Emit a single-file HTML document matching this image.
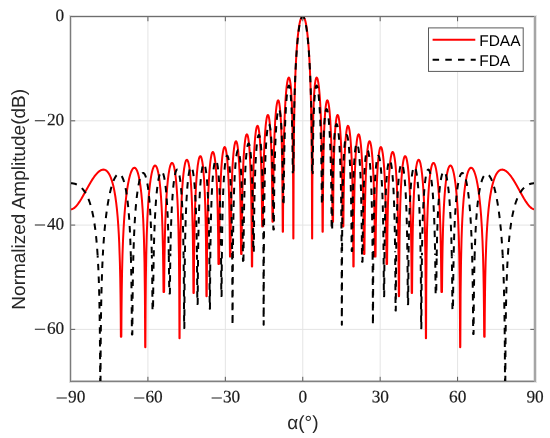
<!DOCTYPE html>
<html><head><meta charset="utf-8"><style>
html,body{margin:0;padding:0;background:#fff;}
body{width:550px;height:438px;overflow:hidden;}
svg{display:block;text-rendering:geometricPrecision;}
.tk{font-family:"Liberation Serif","DejaVu Serif",serif;font-size:17.5px;fill:#1a1a1a;}
.dg{font-size:18px;stroke:#1a1a1a;stroke-width:0.2px;}
.lb{font-family:"Liberation Sans","DejaVu Sans",sans-serif;font-size:19px;fill:#262626;}
.lg{font-family:"Liberation Sans","DejaVu Sans",sans-serif;font-size:15.5px;fill:#000;}
</style></head><body>
<svg width="550" height="438" viewBox="0 0 550 438">
<rect width="550" height="438" fill="#fff"/>
<defs><clipPath id="ax"><rect x="70.5" y="16.55" width="464.50" height="364.95"/></clipPath></defs>
<g stroke="#e4e4e4" stroke-width="1" fill="none"><line x1="147.92" y1="16.55" x2="147.92" y2="381.5"/><line x1="225.33" y1="16.55" x2="225.33" y2="381.5"/><line x1="302.75" y1="16.55" x2="302.75" y2="381.5"/><line x1="380.17" y1="16.55" x2="380.17" y2="381.5"/><line x1="457.58" y1="16.55" x2="457.58" y2="381.5"/><line x1="70.5" y1="120.82" x2="535.0" y2="120.82"/><line x1="70.5" y1="225.09" x2="535.0" y2="225.09"/><line x1="70.5" y1="329.36" x2="535.0" y2="329.36"/></g>
<g shape-rendering="crispEdges">
<rect x="69" y="15" width="468" height="3" fill="#e4e4e4"/>
<rect x="69" y="380" width="468" height="3" fill="#e2e2e2"/>
<rect x="69" y="15" width="3" height="368" fill="#dedede"/>
<rect x="533" y="15" width="4" height="368" fill="#e6e6e6"/>
<rect x="70" y="380" width="466" height="1" fill="#c2c2c2"/>
</g>
<g clip-path="url(#ax)" fill="none" stroke-linejoin="round">
<path d="M70.50 209.41L71.38 209.33L72.25 209.09L73.13 208.69L74.01 208.14L74.94 207.40L75.87 206.51L76.85 205.41L77.83 204.17L79.58 201.65L81.54 198.46L83.51 195.03L89.08 184.95L90.83 181.95L92.43 179.38L94.24 176.73L95.89 174.58L97.49 172.81L99.04 171.41L99.92 170.78L100.80 170.27L101.62 169.91L102.45 169.69L103.27 169.60L104.05 169.65L104.82 169.84L105.54 170.16L106.27 170.61L106.99 171.22L107.66 171.94L108.33 172.81L109.00 173.84L109.62 174.96L110.81 177.59L112.05 181.15L113.23 185.52L114.32 190.56L115.30 196.24L116.18 202.52L116.95 209.34L117.67 217.22L118.29 225.63L118.81 234.35L119.22 243.00L119.89 262.48L120.25 278.31L120.51 294.58L120.72 313.96L120.87 336.80L121.29 336.80L121.34 335.70L121.49 312.77L121.75 289.70L122.06 271.91L122.47 255.57L122.99 241.00L123.61 228.10L124.33 216.66L125.16 206.52L126.24 196.25L126.86 191.49L127.48 187.34L128.15 183.45L128.82 180.09L129.54 177.00L130.32 174.24L131.09 172.00L131.87 170.25L132.64 168.96L133.05 168.47L133.47 168.10L133.88 167.87L134.29 167.77L134.70 167.80L135.07 167.94L135.48 168.23L135.84 168.61L136.56 169.71L137.13 170.92L137.65 172.31L138.16 173.99L138.68 176.00L139.61 180.58L140.48 186.27L141.26 192.75L141.98 200.48L142.60 208.95L143.17 218.93L143.58 228.22L143.94 238.54L144.51 262.51L144.92 295.45L145.18 346.27L145.23 347.22L145.39 347.22L145.59 307.85L145.85 278.88L146.21 255.87L146.73 235.51L147.40 218.21L147.81 210.26L148.28 202.86L148.79 196.05L149.36 189.83L149.98 184.23L150.60 179.60L151.12 176.37L151.68 173.39L152.25 170.94L152.87 168.82L153.44 167.36L154.06 166.25L154.37 165.89L154.68 165.66L154.99 165.55L155.30 165.56L155.61 165.71L155.92 165.98L156.48 166.84L157.05 168.16L157.62 170.01L158.14 172.18L158.65 174.87L159.17 178.17L159.63 181.74L160.35 188.70L161.03 197.20L161.59 206.65L162.06 216.73L162.52 230.27L162.94 247.62L163.25 267.55L163.50 292.03L164.07 292.03L164.12 291.16L164.48 257.29L164.95 233.94L165.26 223.25L165.67 212.20L166.08 203.49L166.60 194.81L167.17 187.23L167.84 180.17L168.56 174.31L169.34 169.61L169.75 167.66L170.16 166.07L170.57 164.81L170.99 163.88L171.40 163.25L171.86 162.92L172.28 162.96L172.69 163.30L173.10 163.97L173.52 164.97L173.93 166.33L174.29 167.83L175.06 172.16L175.74 177.35L176.35 183.69L176.92 191.24L177.44 200.16L177.85 209.36L178.47 229.18L178.93 254.41L179.24 286.37L179.45 338.36L179.61 338.36L179.81 291.06L180.12 256.30L180.59 229.68L180.90 218.04L181.26 207.57L181.72 197.16L182.24 188.23L182.81 180.58L183.43 174.10L184.15 168.40L184.87 164.32L185.23 162.80L185.64 161.46L186.06 160.52L186.47 159.97L186.83 159.80L187.19 159.93L187.55 160.36L187.92 161.10L188.28 162.16L188.64 163.56L189.31 167.18L189.93 171.86L190.50 177.58L191.01 184.32L191.48 192.10L191.84 199.72L192.20 209.34L192.77 231.62L193.13 256.11L193.44 293.07L193.80 293.07L193.85 290.81L194.01 267.31L194.21 247.78L194.47 231.38L194.78 217.40L195.09 206.88L195.45 197.26L195.86 188.58L196.38 180.09L197.00 172.32L197.72 165.67L198.50 160.74L198.91 158.89L199.32 157.54L199.73 156.65L200.15 156.23L200.35 156.18L200.56 156.26L200.97 156.75L201.39 157.71L201.75 158.97L202.16 160.92L202.52 163.10L202.93 166.22L203.35 170.12L204.07 179.29L204.69 190.59L205.20 204.07L205.67 222.16L205.98 240.84L206.24 266.49L206.39 294.50L206.44 296.19L206.70 296.19L206.96 259.51L207.22 236.42L207.58 216.43L208.10 198.09L208.77 182.48L209.54 170.43L210.00 165.15L210.47 160.96L210.99 157.37L211.55 154.54L211.86 153.45L212.17 152.67L212.48 152.18L212.69 152.01L212.84 151.97L213.15 152.11L213.46 152.55L213.77 153.29L214.08 154.35L214.65 157.18L215.22 161.33L215.73 166.48L216.20 172.55L216.61 179.46L217.02 188.34L217.64 207.87L218.11 233.17L218.42 263.91L218.99 263.91L219.24 237.79L219.50 220.01L219.81 205.24L220.22 191.21L220.74 178.67L221.36 167.91L222.03 159.62L222.39 156.22L222.80 153.09L223.42 149.70L223.73 148.54L224.04 147.72L224.35 147.22L224.56 147.07L224.71 147.05L225.02 147.25L225.33 147.78L225.64 148.66L225.95 149.89L226.52 153.16L227.09 157.96L227.60 163.97L228.07 171.16L228.48 179.52L228.84 189.07L229.15 199.81L229.62 224.37L229.93 255.30L229.98 256.62L230.49 256.62L230.86 223.84L231.22 203.12L231.78 182.92L232.15 173.94L232.51 166.78L232.97 159.49L233.44 153.82L233.95 149.00L234.52 145.17L235.09 142.69L235.35 141.97L235.66 141.43L235.97 141.24L236.27 141.40L236.58 141.92L236.84 142.64L237.26 144.34L237.67 146.79L238.03 149.63L238.39 153.21L239.01 161.53L239.58 172.56L240.09 187.32L240.51 205.39L240.77 222.69L241.07 254.02L241.54 254.02L241.85 221.60L242.16 201.25L242.67 180.19L243.29 164.19L243.71 156.54L244.12 150.48L244.58 145.13L245.10 140.64L245.62 137.45L245.87 136.29L246.18 135.25L246.44 134.68L246.75 134.34L247.01 134.34L247.27 134.60L247.53 135.13L247.78 135.93L248.25 138.12L248.71 141.37L249.13 145.29L249.54 150.40L249.90 156.11L250.52 169.75L251.04 187.60L251.40 207.69L251.65 231.66L251.86 266.51L252.17 266.51L252.38 231.31L252.58 210.74L252.89 191.03L253.25 175.60L253.77 160.41L254.39 147.93L254.75 142.48L255.16 137.47L255.58 133.52L255.99 130.47L256.51 127.80L256.76 126.89L257.02 126.26L257.33 125.87L257.59 125.84L257.85 126.09L258.11 126.62L258.62 128.56L259.14 131.82L259.60 136.07L260.02 141.14L260.43 147.78L260.79 155.34L261.10 163.65L261.41 174.52L261.82 196.24L262.13 225.89L262.18 226.42L262.75 226.42L263.06 197.38L263.47 173.75L264.04 154.05L264.40 145.24L264.76 138.22L265.23 131.11L265.69 125.63L266.21 121.08L266.78 117.63L267.04 116.55L267.34 115.65L267.65 115.14L267.91 115.04L268.07 115.11L268.22 115.28L268.48 115.81L268.79 116.85L269.05 118.07L269.41 120.37L269.72 122.96L270.29 129.48L270.80 138.05L271.22 147.59L271.63 161.04L271.99 178.74L272.20 193.88L272.45 221.74L272.92 221.74L273.23 189.85L273.54 168.88L273.95 150.80L274.47 135.54L275.14 122.05L275.55 115.98L275.96 111.15L276.43 106.94L276.89 103.85L277.36 101.76L277.62 101.02L277.87 100.55L278.13 100.38L278.39 100.50L278.65 100.91L278.91 101.64L279.37 103.78L279.83 107.13L280.25 111.32L280.66 116.96L281.02 123.44L281.33 130.57L281.80 145.51L282.16 163.61L282.47 190.14L282.72 231.63L282.98 231.63L283.19 191.71L283.50 162.58L283.96 138.08L284.58 118.19L285.00 108.84L285.46 100.60L285.98 93.47L286.54 87.49L287.16 82.76L287.78 79.62L288.09 78.59L288.40 77.92L288.71 77.61L288.87 77.59L289.02 77.67L289.28 78.01L289.54 78.62L290.05 80.78L290.52 83.95L290.98 88.60L291.34 93.56L291.71 100.15L292.27 115.77L292.69 135.21L292.94 155.89L293.15 186.38L293.31 238.40L293.41 238.40L293.61 173.63L293.92 136.73L294.18 118.78L294.54 101.07L294.96 86.27L295.47 72.27L296.09 59.44L296.81 47.99L297.64 38.06L298.52 30.20L298.98 26.94L299.45 24.23L299.96 21.78L300.48 19.88L301.00 18.46L301.56 17.39L302.13 16.77L302.44 16.61L302.75 16.55L303.06 16.61L303.37 16.77L303.94 17.39L304.50 18.46L305.02 19.88L305.54 21.78L306.05 24.23L306.52 26.94L306.98 30.20L307.86 38.06L308.69 47.99L309.41 59.44L310.03 72.27L310.54 86.27L310.96 101.07L311.32 118.78L311.58 136.73L311.89 173.63L312.09 238.40L312.19 238.40L312.35 186.38L312.56 155.89L312.81 135.21L313.23 115.77L313.79 100.15L314.16 93.56L314.52 88.60L314.98 83.95L315.45 80.78L315.96 78.62L316.22 78.01L316.48 77.67L316.63 77.59L316.79 77.61L317.10 77.92L317.41 78.59L317.72 79.62L318.34 82.76L318.96 87.49L319.52 93.47L320.04 100.60L320.50 108.84L320.92 118.19L321.54 138.08L322.00 162.58L322.31 191.71L322.52 231.63L322.78 231.63L323.03 190.14L323.34 163.61L323.70 145.51L324.17 130.57L324.48 123.44L324.84 116.96L325.25 111.32L325.67 107.13L326.13 103.78L326.59 101.64L326.85 100.91L327.11 100.50L327.37 100.38L327.63 100.55L327.88 101.02L328.14 101.76L328.61 103.85L329.07 106.94L329.54 111.15L329.95 115.98L330.36 122.05L331.03 135.54L331.55 150.80L331.96 168.88L332.27 189.85L332.58 221.74L333.05 221.74L333.30 193.88L333.51 178.74L333.87 161.04L334.28 147.59L334.70 138.05L335.21 129.48L335.78 122.96L336.09 120.37L336.45 118.07L336.71 116.85L337.02 115.81L337.28 115.28L337.43 115.11L337.59 115.04L337.85 115.14L338.16 115.65L338.46 116.55L338.72 117.63L339.29 121.08L339.81 125.63L340.27 131.11L340.74 138.22L341.10 145.24L341.46 154.05L342.03 173.75L342.44 197.38L342.75 226.42L343.32 226.42L343.37 225.89L343.68 196.24L344.09 174.52L344.40 163.65L344.71 155.34L345.07 147.78L345.48 141.14L345.90 136.07L346.36 131.82L346.88 128.56L347.39 126.62L347.65 126.09L347.91 125.84L348.17 125.87L348.48 126.26L348.74 126.89L348.99 127.80L349.51 130.47L349.92 133.52L350.34 137.47L350.75 142.48L351.11 147.93L351.73 160.41L352.25 175.60L352.61 191.03L352.92 210.74L353.12 231.31L353.33 266.51L353.64 266.51L353.84 231.66L354.10 207.69L354.46 187.60L354.98 169.75L355.60 156.11L355.96 150.40L356.37 145.29L356.79 141.37L357.25 138.12L357.72 135.93L357.97 135.13L358.23 134.60L358.49 134.34L358.75 134.34L359.06 134.68L359.32 135.25L359.63 136.29L359.88 137.45L360.40 140.64L360.92 145.13L361.38 150.48L361.79 156.54L362.21 164.19L362.83 180.19L363.34 201.25L363.65 221.60L363.96 254.02L364.43 254.02L364.73 222.69L364.99 205.39L365.41 187.32L365.92 172.56L366.49 161.53L367.11 153.21L367.47 149.63L367.83 146.79L368.24 144.34L368.66 142.64L368.92 141.92L369.23 141.40L369.53 141.24L369.84 141.43L370.15 141.97L370.41 142.69L370.98 145.17L371.55 149.00L372.06 153.82L372.53 159.49L372.99 166.78L373.35 173.94L373.72 182.92L374.28 203.12L374.64 223.84L375.01 256.62L375.52 256.62L375.57 255.30L375.88 224.37L376.35 199.81L376.66 189.07L377.02 179.52L377.43 171.16L377.90 163.97L378.41 157.96L378.98 153.16L379.55 149.89L379.86 148.66L380.17 147.78L380.48 147.25L380.79 147.05L380.94 147.07L381.15 147.22L381.46 147.72L381.77 148.54L382.08 149.70L382.70 153.09L383.11 156.22L383.47 159.62L384.14 167.91L384.76 178.67L385.28 191.21L385.69 205.24L386.00 220.01L386.26 237.79L386.51 263.91L387.08 263.91L387.39 233.17L387.86 207.87L388.48 188.34L388.89 179.46L389.30 172.55L389.77 166.48L390.28 161.33L390.85 157.18L391.42 154.35L391.73 153.29L392.04 152.55L392.35 152.11L392.66 151.97L392.81 152.01L393.02 152.18L393.33 152.67L393.64 153.45L393.95 154.54L394.51 157.37L395.03 160.96L395.50 165.15L395.96 170.43L396.73 182.48L397.40 198.09L397.92 216.43L398.28 236.42L398.54 259.51L398.80 296.19L399.06 296.19L399.11 294.50L399.26 266.49L399.52 240.84L399.83 222.16L400.29 204.07L400.81 190.59L401.43 179.29L402.15 170.12L402.57 166.22L402.98 163.10L403.34 160.92L403.75 158.97L404.11 157.71L404.53 156.75L404.94 156.26L405.15 156.18L405.35 156.23L405.77 156.65L406.18 157.54L406.59 158.89L407.00 160.74L407.78 165.67L408.50 172.32L409.12 180.09L409.64 188.58L410.05 197.26L410.41 206.88L410.72 217.40L411.03 231.38L411.29 247.78L411.49 267.31L411.65 290.81L411.70 293.07L412.06 293.07L412.37 256.11L412.73 231.62L413.30 209.34L413.66 199.72L414.02 192.10L414.49 184.32L415.00 177.58L415.57 171.86L416.19 167.18L416.86 163.56L417.22 162.16L417.58 161.10L417.95 160.36L418.31 159.93L418.67 159.80L419.03 159.97L419.44 160.52L419.86 161.46L420.27 162.80L420.63 164.32L421.35 168.40L422.07 174.10L422.69 180.58L423.26 188.23L423.78 197.16L424.24 207.57L424.60 218.04L424.91 229.68L425.38 256.30L425.69 291.06L425.89 338.36L426.05 338.36L426.26 286.37L426.57 254.41L427.03 229.18L427.65 209.36L428.06 200.16L428.58 191.24L429.15 183.69L429.76 177.35L430.44 172.16L431.21 167.83L431.57 166.33L431.98 164.97L432.40 163.97L432.81 163.30L433.22 162.96L433.64 162.92L434.10 163.25L434.51 163.88L434.93 164.81L435.34 166.07L435.75 167.66L436.16 169.61L436.94 174.31L437.66 180.17L438.33 187.23L438.90 194.81L439.42 203.49L439.83 212.20L440.24 223.25L440.55 233.94L441.02 257.29L441.38 291.16L441.43 292.03L442.00 292.03L442.25 267.55L442.56 247.62L442.98 230.27L443.44 216.73L443.91 206.65L444.47 197.20L445.15 188.70L445.87 181.74L446.33 178.17L446.85 174.87L447.36 172.18L447.88 170.01L448.45 168.16L449.02 166.84L449.58 165.98L449.89 165.71L450.20 165.56L450.51 165.55L450.82 165.66L451.13 165.89L451.44 166.25L452.06 167.36L452.63 168.82L453.25 170.94L453.82 173.39L454.38 176.37L454.90 179.60L455.52 184.23L456.14 189.83L456.71 196.05L457.22 202.86L457.69 210.26L458.10 218.21L458.77 235.51L459.29 255.87L459.65 278.88L459.91 307.85L460.11 347.22L460.27 347.22L460.32 346.27L460.58 295.45L460.99 262.51L461.56 238.54L461.92 228.22L462.33 218.93L462.90 208.95L463.52 200.48L464.24 192.75L465.02 186.27L465.89 180.58L466.82 176.00L467.34 173.99L467.85 172.31L468.37 170.92L468.94 169.71L469.66 168.61L470.02 168.23L470.43 167.94L470.80 167.80L471.21 167.77L471.62 167.87L472.03 168.10L472.45 168.47L472.86 168.96L473.63 170.25L474.41 172.00L475.18 174.24L475.96 177.00L476.68 180.09L477.35 183.45L478.02 187.34L478.64 191.49L479.26 196.25L480.34 206.52L481.17 216.66L481.89 228.10L482.51 241.00L483.03 255.57L483.44 271.91L483.75 289.70L484.01 312.77L484.16 335.70L484.21 336.80L484.63 336.80L484.78 313.96L484.99 294.58L485.25 278.31L485.61 262.48L486.28 243.00L486.69 234.35L487.21 225.63L487.83 217.22L488.55 209.34L489.32 202.52L490.20 196.24L491.18 190.56L492.27 185.52L493.45 181.15L494.69 177.59L495.88 174.96L496.50 173.84L497.17 172.81L497.84 171.94L498.51 171.22L499.23 170.61L499.96 170.16L500.68 169.84L501.45 169.65L502.23 169.60L503.05 169.69L503.88 169.91L504.70 170.27L505.58 170.78L506.46 171.41L508.01 172.81L509.61 174.58L511.26 176.73L513.07 179.38L514.67 181.95L516.42 184.95L521.99 195.03L523.96 198.46L525.92 201.65L527.67 204.17L528.65 205.41L529.63 206.51L530.56 207.40L531.49 208.14L532.37 208.69L533.25 209.09L534.12 209.33L535.00 209.41" stroke="#ff0000" stroke-width="2"/>
<g stroke="#000" stroke-width="2" stroke-dasharray="6.5 6.2"><path d="M70.50 183.13L71.95 183.20L73.39 183.41L74.78 183.75L76.18 184.25L77.47 184.85L78.76 185.60L80.00 186.49L81.18 187.50L82.32 188.65L83.40 189.92L84.43 191.31L85.42 192.83L86.34 194.45L87.27 196.30L88.15 198.27L88.98 200.35L89.75 202.54L90.53 204.98L91.92 210.18L93.16 215.90L94.29 222.38L95.32 229.73L96.20 237.51L96.98 246.12L97.65 255.55" stroke-dashoffset="0.00"/><path d="M97.65 255.55L98.32 267.92L98.83 280.83L99.25 295.02L99.61 312.95L99.87 332.53L100.02 350.46L100.18 380.81L100.28 424.60L100.38 424.60L100.59 360.36L100.74 338.53L101.00 316.08L101.31 298.54L101.72 282.26L102.24 267.62L102.81 255.47" stroke-dashoffset="4.41"/><path d="M102.81 255.47L103.32 246.60L103.94 237.78L104.61 229.77L105.34 222.46L106.16 215.34L107.04 208.85L107.97 202.94L109.00 197.30L110.14 192.01L111.32 187.36L112.56 183.33L113.80 180.07L114.42 178.71L115.09 177.44L115.76 176.36L116.38 175.55L117.05 174.87L117.67 174.42L118.34 174.13L118.96 174.06L119.53 174.17L120.10 174.43L120.67 174.88L121.23 175.51L121.80 176.33L122.32 177.25L123.35 179.67L124.33 182.77L125.21 186.32L126.09 190.78L126.86 195.65L127.58 201.19L128.20 206.95L128.82 213.94L129.34 221.04L129.80 228.81L130.21 237.29L130.88 256.35" stroke-dashoffset="0.68"/><path d="M130.88 256.35L131.25 271.72L131.56 291.22L131.92 334.50L132.33 334.50L132.54 305.41L132.74 286.97L133.00 271.13L133.36 255.46" stroke-dashoffset="12.69"/><path d="M133.36 255.46L133.98 237.11L134.76 221.51L135.22 214.35L135.74 207.66L136.30 201.48L136.92 195.81L137.59 190.67L138.32 186.09L139.09 182.09L139.87 178.91L140.69 176.32L141.52 174.50L141.93 173.86L142.34 173.40L142.76 173.12L143.17 173.01L143.58 173.09L143.99 173.36L144.41 173.82L144.77 174.38L145.54 176.12L146.27 178.47L146.99 181.62L147.66 185.39L148.28 189.73L148.85 194.60L149.36 199.96L149.83 205.76L150.65 219.37L151.32 235.69L151.84 254.88" stroke-dashoffset="5.92"/><path d="M151.84 254.88L152.20 276.30L152.51 309.89L152.56 310.90L153.03 310.90L153.34 279.35L153.70 256.36" stroke-dashoffset="2.83"/><path d="M153.70 256.36L154.16 237.73L154.78 221.14L155.56 206.88L156.02 200.36L156.48 194.90L157.05 189.34L157.62 184.79L158.24 180.75L158.86 177.55L159.53 174.91L160.20 173.05L160.51 172.44L160.87 171.92L161.23 171.62L161.59 171.52L161.95 171.63L162.26 171.89L162.63 172.40L162.94 173.01L163.55 174.76L164.17 177.27L164.74 180.32L165.31 184.21L165.83 188.62L166.34 194.07L167.17 205.74L167.84 219.47L168.41 236.70L168.82 256.04" stroke-dashoffset="0.43"/><path d="M168.82 256.04L169.28 293.60L169.90 293.60L170.11 271.41L170.37 253.56" stroke-dashoffset="0.64"/><path d="M170.37 253.56L170.78 234.67L171.30 218.83L171.97 204.58L172.79 192.40L173.26 187.20L173.77 182.47L174.29 178.64L174.86 175.31L175.43 172.80L176.04 170.90L176.30 170.36L176.61 169.89L176.92 169.62L177.23 169.55L177.54 169.68L177.85 170.01L178.42 171.18L178.99 173.09L179.50 175.55L180.02 178.79L180.53 182.94L181.00 187.61L181.41 192.70L182.13 204.49L182.75 219.27L183.22 235.74L183.58 255.32" stroke-dashoffset="10.21"/><path d="M183.58 255.32L183.89 284.18L184.15 328.10L184.35 328.10L184.56 286.19L184.87 256.04" stroke-dashoffset="3.52"/><path d="M184.87 256.04L185.23 235.80L185.70 218.79L186.32 203.46L187.04 191.15L187.45 185.81L187.92 180.88L188.38 176.89L188.90 173.37L189.41 170.70L189.98 168.64L190.50 167.51L190.75 167.20L191.06 167.05L191.37 167.15L191.63 167.41L192.15 168.47L192.66 170.28L193.18 172.90L193.64 176.06L194.11 180.09L194.52 184.56L194.93 190.06L195.61 202.04L196.17 216.93L196.64 235.46L196.95 254.76" stroke-dashoffset="8.67"/><path d="M196.95 254.76L197.36 304.10L197.67 304.10L197.72 301.24L197.88 275.53L198.08 254.91" stroke-dashoffset="1.55"/><path d="M198.08 254.91L198.39 235.18L198.86 216.18L199.37 201.98L200.04 189.14L200.82 178.93L201.28 174.42L201.75 170.86L202.26 167.86L202.78 165.75L203.30 164.47L203.55 164.13L203.81 163.98L204.07 164.03L204.33 164.28L204.59 164.72L204.84 165.38L205.36 167.35L205.82 169.93L206.29 173.39L206.70 177.33L207.11 182.25L207.48 187.56L208.10 199.70L208.61 214.53L209.02 232.41L209.33 253.59" stroke-dashoffset="6.79"/><path d="M209.33 253.59L209.54 276.97L209.70 308.70L209.95 308.70L210.16 274.64L210.37 251.91" stroke-dashoffset="8.48"/><path d="M210.37 251.91L210.68 230.95L211.09 212.99L211.60 197.90L212.22 185.38L213.00 174.67L213.41 170.49L213.88 166.78L214.34 163.98L214.86 161.82L215.32 160.66L215.58 160.34L215.84 160.23L216.09 160.34L216.35 160.68L216.82 161.86L217.28 163.84L217.75 166.70L218.16 170.09L218.57 174.42L219.29 184.95L219.86 197.20L220.33 211.79L220.69 228.59L221.00 251.43" stroke-dashoffset="6.29"/><path d="M221.00 251.43L221.31 296.10L221.62 296.10L221.82 261.91L222.13 234.03L222.60 210.52L223.17 192.86L223.53 184.79L223.94 177.46L224.40 170.99L224.92 165.48L225.44 161.38L226.00 158.24L226.26 157.24L226.57 156.37L226.88 155.85L227.19 155.69L227.45 155.82L227.71 156.19L228.17 157.51L228.64 159.71L229.05 162.49L229.46 166.17L229.88 170.90L230.55 181.63L231.06 193.74L231.53 209.79L231.89 229.11L232.15 251.49" stroke-dashoffset="6.23"/><path d="M232.15 251.49L232.30 273.76L232.51 325.30L232.61 325.30L232.71 289.11L232.92 253.23" stroke-dashoffset="11.29"/><path d="M232.92 253.23L233.18 229.66L233.54 209.45L234.06 191.08L234.67 176.64L235.04 170.43L235.45 164.73L235.86 160.21L236.33 156.29L236.79 153.41L237.31 151.32L237.51 150.78L237.77 150.35L238.03 150.19L238.29 150.28L238.55 150.64L238.75 151.12L239.22 152.87L239.68 155.61L240.09 159.01L240.51 163.47L240.87 168.46L241.54 181.42L242.00 194.92L242.42 213.00L242.67 230.35L242.98 261.83" stroke-dashoffset="4.54"/><path d="M242.98 261.83L243.45 261.83L243.76 228.86L244.07 208.60L244.53 189.32L245.10 173.98L245.77 161.82L246.13 156.99L246.55 152.57L246.96 149.15L247.42 146.32L247.89 144.48L248.09 143.96L248.35 143.56L248.61 143.44L248.87 143.59L249.13 144.03L249.33 144.59L249.80 146.57L250.26 149.64L250.67 153.43L251.09 158.44L251.76 170.10L252.33 185.48L252.74 202.91L253.05 223.69L253.31 250.89" stroke-dashoffset="11.46"/><path d="M253.31 250.89L253.82 250.89L254.08 222.50L254.44 198.57L254.91 179.69L255.53 163.46L256.20 151.83L256.61 146.63L257.02 142.57L257.44 139.47L257.90 137.01L258.31 135.65L258.52 135.25L258.78 135.02L259.04 135.08L259.24 135.33L259.50 135.93L259.71 136.63L260.17 138.99L260.58 142.09L261.00 146.31L261.36 151.12L262.03 163.93L262.54 179.42L262.91 196.08L263.22 219.06L263.42 246.29" stroke-dashoffset="0.96"/><path d="M263.42 246.29L263.63 324.80L263.68 324.80L263.84 263.52L263.99 233.64L264.30 202.95L264.71 180.20L265.02 168.64L265.38 158.35L265.80 149.31L266.21 142.28L266.73 135.57L267.24 130.65L267.81 126.94L268.12 125.58L268.43 124.66L268.69 124.23L268.94 124.10L269.20 124.28L269.41 124.64L269.87 126.21L270.34 128.93L270.75 132.46L271.16 137.26L271.83 148.75L272.40 164.32L272.82 182.43L273.13 204.78L273.33 229.55L273.85 229.55L274.11 198.69L274.42 177.22L274.83 158.85L275.40 142.20L276.02 129.91L276.69 120.74L277.05 117.10L277.46 113.86L277.87 111.49L278.29 109.94L278.54 109.38L278.75 109.14L279.01 109.13L279.22 109.34L279.47 109.90L279.68 110.59L280.09 112.67L280.51 115.79L280.87 119.53L281.23 124.44L281.54 129.83L282.05 142.30L282.47 157.55L282.78 175.23L283.09 202.47" stroke-dashoffset="12.24"/><path d="M283.09 202.47L283.65 202.47L283.71 201.00L283.96 174.09L284.32 151.81L284.79 133.41L285.36 118.18L285.98 106.52L286.65 97.57L287.01 93.95L287.42 90.67L287.83 88.23L288.25 86.58L288.51 85.94L288.71 85.64L288.92 85.55L289.12 85.66L289.33 85.97L289.54 86.51L289.95 88.30L290.36 91.17L290.72 94.75L291.34 104.05L291.81 115.08L292.22 130.31L292.53 148.69L292.79 173.32" stroke-dashoffset="12.20"/><path d="M292.79 173.32L293.36 173.32L293.77 133.56L294.03 118.07L294.34 104.11L294.70 91.47L295.16 78.72L295.68 67.48L296.25 57.50L296.87 48.63L297.59 40.25L298.36 33.11L299.19 27.16L300.07 22.45L300.48 20.74L300.94 19.18L301.36 18.11L301.82 17.24L302.29 16.72L302.75 16.55L303.21 16.72L303.68 17.24L304.14 18.11L304.61 19.34L305.07 20.94L305.54 22.93L306.41 27.82L307.24 33.96L308.01 41.34L308.74 49.98L309.41 60.02L309.98 70.60L310.44 81.30L310.85 93.10L311.21 106.19L311.73 133.56L312.14 173.32" stroke-dashoffset="9.96"/><path d="M312.14 173.32L312.71 173.32L312.97 148.69L313.33 127.98L313.74 113.61L314.31 101.26L314.93 93.07L315.29 89.95L315.65 87.76L316.01 86.36L316.22 85.87L316.43 85.61L316.63 85.55L316.84 85.70L317.05 86.04L317.25 86.58L317.72 88.49L318.13 91.03L318.54 94.42L318.96 98.75L319.73 109.97L320.35 123.08L320.81 136.89L321.23 154.41L321.54 174.09L321.85 202.47" stroke-dashoffset="3.68"/><path d="M321.85 202.47L322.41 202.47L322.72 175.23L323.08 155.25L323.55 139.36L324.12 126.98L324.43 122.18L324.79 117.80L325.15 114.49L325.51 112.06L325.92 110.22L326.13 109.64L326.34 109.27L326.54 109.11L326.75 109.14L326.96 109.38L327.21 109.94L327.68 111.74L328.14 114.58L328.56 118.06L328.97 122.56L329.69 133.52L330.31 147.48L330.83 164.87L331.19 183.31L331.45 203.51L331.65 229.55" stroke-dashoffset="10.29"/><path d="M331.65 229.55L332.17 229.55L332.43 200.13L332.74 179.65L333.20 160.90L333.82 145.59L334.49 135.29L334.85 131.47L335.26 128.22L335.68 125.98L335.88 125.20L336.14 124.53L336.35 124.22L336.61 124.11L336.81 124.23L337.07 124.66L337.54 126.20L338.00 128.76L338.46 132.43L338.88 136.76L339.29 142.28L339.65 148.33L340.27 162.43L340.79 180.20L341.15 199.38L341.41 220.96L341.61 251.25" stroke-dashoffset="11.15"/><path d="M341.61 251.25L341.82 324.80L341.87 324.80L342.08 246.29" stroke-dashoffset="5.00"/><path d="M342.08 246.29L342.28 219.06L342.59 196.08L342.96 179.42L343.47 163.93L344.09 151.91L344.45 146.93L344.86 142.55L345.28 139.32L345.74 136.84L346.21 135.43L346.41 135.12L346.67 135.01L346.93 135.18L347.19 135.65L347.65 137.23L348.12 139.81L348.58 143.49L348.99 147.81L349.41 153.33L350.13 166.89L350.70 183.21L351.11 201.29L351.42 222.50L351.68 250.89L352.19 250.89L352.50 219.44L352.81 200.27L353.28 182.13L353.84 167.94L354.52 157.06L354.88 152.90L355.24 149.64L355.65 146.85L356.06 144.94L356.48 143.82L356.68 143.54L356.94 143.44L357.20 143.62L357.46 144.07L357.92 145.60L358.44 148.43L358.90 152.09L359.32 156.37L359.73 161.82L360.45 175.14L361.02 191.08L361.48 211.39L361.79 233.35L362.05 261.83L362.52 261.83L362.83 230.35L363.13 210.25L363.55 193.15L364.12 177.89L364.73 166.92L365.10 162.25L365.51 158.07L365.92 154.91L366.33 152.63L366.75 151.12L366.95 150.64L367.21 150.28L367.47 150.19L367.73 150.35L367.99 150.78L368.19 151.32L368.71 153.41L369.17 156.29L369.64 160.21L370.05 164.73L370.46 170.43L370.83 176.64L371.44 191.08L371.96 209.45L372.32 229.66L372.58 253.23" stroke-dashoffset="3.02"/><path d="M372.58 253.23L372.79 289.11L372.89 325.10L372.99 325.10L373.20 273.76L373.41 246.00L373.77 219.73L374.28 198.38L374.64 188.36L375.06 179.68L375.52 172.28L375.99 166.70L376.55 161.72L377.12 158.38L377.43 157.15L377.74 156.30L378.05 155.82L378.21 155.71L378.36 155.69L378.62 155.85L378.88 156.26L379.34 157.61L379.81 159.79L380.27 162.87L380.73 166.98L381.15 171.64L381.87 182.79L382.49 196.94L382.95 212.58L383.37 234.03L383.62 255.89" stroke-dashoffset="0.03"/><path d="M383.62 255.89L383.88 296.30L384.19 296.30L384.40 262.77L384.71 234.96L385.12 213.81L385.69 195.88L386.05 187.86L386.41 181.48L386.88 175.03L387.34 170.09L387.86 165.99L388.42 162.86L388.68 161.86L388.99 160.99L389.25 160.51L389.56 160.25L389.82 160.27L390.08 160.51L390.54 161.50L391.06 163.47L391.52 166.08L391.99 169.58L392.45 174.09L393.22 184.52L393.90 197.90L394.41 212.99L394.82 230.95L395.13 251.91" stroke-dashoffset="10.49"/><path d="M395.13 251.91L395.34 274.64L395.55 310.60L395.75 310.60L395.80 309.32L396.01 269.87L396.32 241.72L396.79 218.33L397.35 200.94L397.77 192.07L398.18 185.15L398.70 178.46L399.21 173.39L399.78 169.28L400.40 166.25L400.71 165.23L401.02 164.52L401.33 164.10L401.48 164.00L401.69 163.98L401.95 164.13L402.20 164.47L402.72 165.75L403.24 167.86L403.75 170.86L404.22 174.42L404.68 178.93L405.46 189.14L406.13 201.98L406.64 216.18L407.11 235.18L407.42 254.91" stroke-dashoffset="6.21"/><path d="M407.42 254.91L407.62 275.53L407.78 301.24L407.83 304.20L408.14 304.20L408.55 254.76" stroke-dashoffset="1.61"/><path d="M408.55 254.76L408.86 235.46L409.33 216.93L409.89 202.04L410.57 190.06L410.98 184.56L411.39 180.09L411.86 176.06L412.32 172.90L412.84 170.28L413.35 168.47L413.87 167.41L414.13 167.15L414.44 167.05L414.75 167.20L415.00 167.51L415.52 168.64L416.09 170.70L416.60 173.37L417.12 176.89L417.58 180.88L418.05 185.81L418.46 191.15L419.18 203.46L419.80 218.79L420.27 235.80L420.63 256.04" stroke-dashoffset="10.54"/><path d="M420.63 256.04L420.94 286.19L421.15 328.20L421.35 328.20L421.61 284.18L421.92 255.32" stroke-dashoffset="4.14"/><path d="M421.92 255.32L422.28 235.74L422.75 219.27L423.37 204.49L424.09 192.70L424.50 187.61L424.97 182.94L425.48 178.79L426.00 175.55L426.51 173.09L427.08 171.18L427.65 170.01L427.96 169.68L428.27 169.55L428.58 169.62L428.89 169.89L429.20 170.36L429.46 170.90L430.07 172.80L430.64 175.31L431.21 178.64L431.73 182.47L432.24 187.20L432.71 192.40L433.53 204.58L434.20 218.83L434.72 234.67L435.13 253.56" stroke-dashoffset="3.91"/><path d="M435.13 253.56L435.65 294.60L436.22 294.60L436.68 256.04" stroke-dashoffset="5.01"/><path d="M436.68 256.04L437.09 236.70L437.66 219.47L438.33 205.74L439.16 194.07L439.67 188.62L440.19 184.21L440.76 180.32L441.33 177.27L441.95 174.76L442.56 173.01L442.87 172.40L443.24 171.89L443.55 171.63L443.91 171.52L444.27 171.62L444.63 171.92L444.99 172.44L445.30 173.05L445.97 174.91L446.64 177.55L447.26 180.75L447.88 184.79L448.45 189.34L449.02 194.90L449.48 200.36L449.94 206.88L450.72 221.14L451.34 237.73L451.80 256.36" stroke-dashoffset="12.66"/><path d="M451.80 256.36L452.16 279.35L452.42 308.35L452.47 310.40L452.94 310.40L452.99 309.89L453.30 276.30L453.66 254.88" stroke-dashoffset="4.51"/><path d="M453.66 254.88L454.18 235.69L454.85 219.37L455.67 205.76L456.14 199.96L456.65 194.60L457.22 189.73L457.84 185.39L458.51 181.62L459.23 178.47L459.96 176.12L460.73 174.38L461.09 173.82L461.51 173.36L461.92 173.09L462.33 173.01L462.74 173.12L463.16 173.40L463.57 173.86L463.98 174.50L464.81 176.32L465.63 178.91L466.41 182.09L467.18 186.09L467.91 190.67L468.58 195.81L469.20 201.48L469.76 207.66L470.28 214.35L470.74 221.51L471.52 237.11L472.14 255.46" stroke-dashoffset="10.64"/><path d="M472.14 255.46L472.50 271.13L472.76 286.97L472.96 305.41L473.17 334.10L473.58 334.10L473.79 305.54L474.00 287.32L474.25 271.72L474.61 256.35" stroke-dashoffset="12.20"/><path d="M474.61 256.35L475.29 237.29L475.70 228.81L476.16 221.04L476.68 213.94L477.30 206.95L477.92 201.19L478.64 195.65L479.41 190.78L480.29 186.32L481.17 182.77L482.15 179.67L483.18 177.25L483.70 176.33L484.27 175.51L484.83 174.88L485.40 174.43L485.97 174.17L486.54 174.06L487.16 174.13L487.83 174.42L488.45 174.87L489.12 175.55L489.74 176.36L490.41 177.44L491.08 178.71L491.70 180.07L492.94 183.33L494.18 187.36L495.36 192.01L496.50 197.30L497.53 202.94L498.46 208.85L499.34 215.34L500.16 222.46L500.89 229.77L501.56 237.78L502.18 246.60L502.69 255.47" stroke-dashoffset="1.50"/><path d="M502.69 255.47L503.26 267.62L503.78 282.26L504.19 298.54L504.50 316.08L504.76 338.53L504.91 360.36L505.12 424.80L505.22 424.80L505.32 380.81L505.48 350.46L505.63 332.53L505.89 312.95L506.25 295.02L506.67 280.83L507.18 267.92L507.85 255.55" stroke-dashoffset="3.93"/><path d="M507.85 255.55L508.52 246.12L509.30 237.51L510.18 229.73L511.21 222.38L512.34 215.90L513.58 210.18L514.97 204.98L515.75 202.54L516.52 200.35L517.35 198.27L518.23 196.30L519.16 194.45L520.08 192.83L521.06 191.31L522.10 189.92L523.18 188.65L524.32 187.50L525.50 186.49L526.74 185.60L528.03 184.85L529.32 184.25L530.72 183.75L532.11 183.41L533.55 183.20L535.00 183.13" stroke-dashoffset="11.81"/></g>
</g>
<g stroke="#5a5a5a" stroke-width="1" fill="none"><line x1="70.50" y1="381.5" x2="70.50" y2="376.8"/><line x1="70.50" y1="16.55" x2="70.50" y2="21.25"/><line x1="147.92" y1="381.5" x2="147.92" y2="376.8"/><line x1="147.92" y1="16.55" x2="147.92" y2="21.25"/><line x1="225.33" y1="381.5" x2="225.33" y2="376.8"/><line x1="225.33" y1="16.55" x2="225.33" y2="21.25"/><line x1="302.75" y1="381.5" x2="302.75" y2="376.8"/><line x1="302.75" y1="16.55" x2="302.75" y2="21.25"/><line x1="380.17" y1="381.5" x2="380.17" y2="376.8"/><line x1="380.17" y1="16.55" x2="380.17" y2="21.25"/><line x1="457.58" y1="381.5" x2="457.58" y2="376.8"/><line x1="457.58" y1="16.55" x2="457.58" y2="21.25"/><line x1="535.00" y1="381.5" x2="535.00" y2="376.8"/><line x1="535.00" y1="16.55" x2="535.00" y2="21.25"/><line x1="70.5" y1="16.55" x2="75.2" y2="16.55"/><line x1="535.0" y1="16.55" x2="530.3" y2="16.55"/><line x1="70.5" y1="120.82" x2="75.2" y2="120.82"/><line x1="535.0" y1="120.82" x2="530.3" y2="120.82"/><line x1="70.5" y1="225.09" x2="75.2" y2="225.09"/><line x1="535.0" y1="225.09" x2="530.3" y2="225.09"/><line x1="70.5" y1="329.36" x2="75.2" y2="329.36"/><line x1="535.0" y1="329.36" x2="530.3" y2="329.36"/>
</g>
<g shape-rendering="crispEdges">
<rect x="70" y="16" width="466" height="1" fill="#6e6e6e"/>
<rect x="70" y="381" width="466" height="1" fill="#808080"/>
<rect x="70" y="16" width="1" height="366" fill="#7b7b7b"/>
<rect x="534" y="16" width="2" height="366" fill="#a5a5a5"/>
</g>
<g class="tk"><text transform="translate(55.60,403.79) rotate(0.1) scale(1.257,1)">−</text><text transform="translate(68.06,402.2) rotate(0.1) scale(0.96,0.965)" class="dg">90</text><text transform="translate(133.02,403.79) rotate(0.1) scale(1.257,1)">−</text><text transform="translate(145.48,402.2) rotate(0.1) scale(0.96,0.965)" class="dg">60</text><text transform="translate(210.43,403.79) rotate(0.1) scale(1.257,1)">−</text><text transform="translate(222.89,402.2) rotate(0.1) scale(0.96,0.965)" class="dg">30</text><text transform="translate(302.85,402.2) rotate(0.1) scale(0.96,0.965)" class="dg" text-anchor="middle">0</text><text transform="translate(380.27,402.2) rotate(0.1) scale(0.96,0.965)" class="dg" text-anchor="middle">30</text><text transform="translate(457.68,402.2) rotate(0.1) scale(0.96,0.965)" class="dg" text-anchor="middle">60</text><text transform="translate(535.10,402.2) rotate(0.1) scale(0.96,0.965)" class="dg" text-anchor="middle">90</text><text transform="translate(64.26,21.05) rotate(0.1) scale(0.96,0.965)" class="dg" text-anchor="end">0</text><text transform="translate(64.26,125.32) rotate(0.1) scale(0.96,0.965)" class="dg" text-anchor="end">20</text><text transform="translate(33.80,126.41) rotate(0.1) scale(1.257,1)">−</text><text transform="translate(64.26,229.59) rotate(0.1) scale(0.96,0.965)" class="dg" text-anchor="end">40</text><text transform="translate(33.80,230.69) rotate(0.1) scale(1.257,1)">−</text><text transform="translate(64.26,333.86) rotate(0.1) scale(0.96,0.965)" class="dg" text-anchor="end">60</text><text transform="translate(33.80,334.96) rotate(0.1) scale(1.257,1)">−</text></g>
<text class="lb" transform="translate(24.7,199.3) rotate(-90)" text-anchor="middle">Normalized Amplitude(dB)</text>
<text class="lb" x="302.9" y="428.8" text-anchor="middle">α(°)</text>
<g>
<rect x="428.5" y="27.9" width="94.7" height="43.5" fill="#fff" stroke="#5a5a5a" stroke-width="1"/>
<line x1="432.6" y1="39.8" x2="475.3" y2="39.8" stroke="#ff0000" stroke-width="2"/>
<line x1="432.6" y1="59.85" x2="475.7" y2="59.85" stroke="#000" stroke-width="2" stroke-dasharray="6.5 6.2"/>
<text class="lg" x="479.2" y="45.7">FDAA</text>
<text class="lg" x="479.2" y="65.5">FDA</text>
</g>
</svg>
</body></html>
